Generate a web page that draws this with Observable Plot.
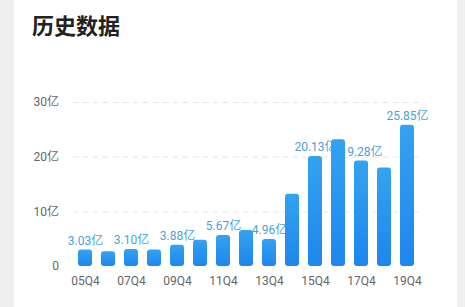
<!DOCTYPE html>
<html>
<head>
<meta charset="utf-8">
<script src="https://cdn.jsdelivr.net/npm/d3@7"></script>
<script src="https://cdn.jsdelivr.net/npm/@observablehq/plot@0.6"></script>
<style>
  html, body { margin: 0; padding: 0; background: #efefef; width: 465px; height: 307px; overflow: hidden; position: relative; }
  #card { position: absolute; left: 14px; top: 0; width: 443px; height: 307px; background: #ffffff; }
  #title { position: absolute; left: 18px; top: 9px; font-family: "Noto Sans CJK SC", sans-serif; font-weight: bold; font-size: 22px; color: #222; line-height: 30px; white-space: nowrap; }
  #chart { position: absolute; left: 0; top: 60px; }
  svg { background: transparent !important; }
</style>
</head>
<body>
<div id="card">
  <div id="title">历史数据</div>
  <div id="chart"></div>
</div>
<script>
const quarters = ["05Q4","06Q4","07Q4","08Q4","09Q4","10Q4","11Q4","12Q4","13Q4","14Q4","15Q4","16Q4","17Q4","18Q4","19Q4"];
const values = [3.03, 2.7, 3.10, 3.0, 3.88, 4.8, 5.67, 6.6, 4.96, 13.2, 20.13, 23.2, 19.28, 18.0, 25.85];
const labeled = [true,false,true,false,true,false,true,false,true,false,true,false,true,false,true];
const xTicks = ["05Q4","07Q4","09Q4","11Q4","13Q4","15Q4","17Q4","19Q4"];
const yTicks = [0, 10, 20, 30];

const data = quarters.map((q, i) => ({q, v: values[i], show: labeled[i]}));

const chart = Plot.plot({
  width: 443,
  height: 247,
  marginLeft: 58.6,
  marginRight: 37.4,
  marginTop: 42,
  marginBottom: 41,
  style: {fontFamily: "Roboto, 'Noto Sans CJK SC', sans-serif", fontSize: "12px", background: "transparent"},
  x: {domain: quarters, paddingInner: 0.39, paddingOuter: 0.195, label: null},
  y: {domain: [0, 30], label: null},
  marks: [
    Plot.ruleY(yTicks.filter(d => d > 0), {stroke: "#e6e6e6", strokeDasharray: "6,4", strokeWidth: 1}),
    Plot.axisY({ticks: yTicks, tickSize: 0, tickPadding: 14, tickFormat: d => d === 0 ? "0" : d + "亿", fill: "#666", fontSize: 12, label: null}),
    Plot.axisX({ticks: xTicks, tickSize: 0, tickPadding: 10, fill: "#666", fontSize: 12, label: null}),
    Plot.text(data.filter(d => d.show), {x: "q", y: "v", text: d => d.v.toFixed(2) + "亿", dy: -9, fill: "#4a9fdc", fontSize: 12}),
    Plot.barY(data, {x: "q", y: "v", fill: "url(#barGrad)", rx: 3, ry: 3})
  ]
});

const ns = "http://www.w3.org/2000/svg";
const defs = document.createElementNS(ns, "defs");
const grad = document.createElementNS(ns, "linearGradient");
grad.setAttribute("id", "barGrad");
grad.setAttribute("x1", "0"); grad.setAttribute("y1", "0");
grad.setAttribute("x2", "0"); grad.setAttribute("y2", "1");
[["0%", "#33a3f0"], ["100%", "#1e86ee"]].forEach(([o, c]) => {
  const s = document.createElementNS(ns, "stop");
  s.setAttribute("offset", o); s.setAttribute("stop-color", c);
  grad.appendChild(s);
});
defs.appendChild(grad);
chart.insertBefore(defs, chart.firstChild);

document.getElementById("chart").appendChild(chart);
</script>
</body>
</html>
